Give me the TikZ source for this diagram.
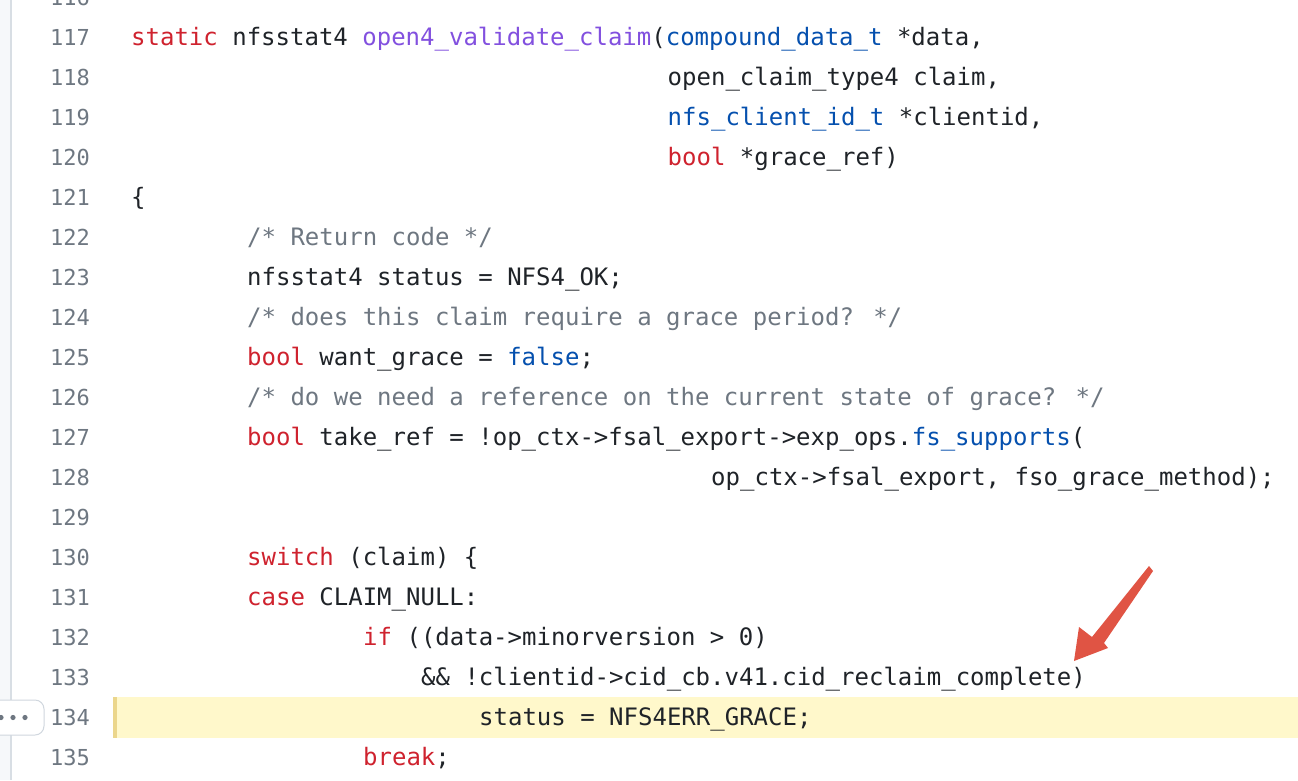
\documentclass[tikz,border=0pt]{standalone}
\usepackage{fontspec}
\newfontfamily\code{DejaVu Sans Mono}
\definecolor{kw}{HTML}{CF222E}
\definecolor{fn}{HTML}{8250DF}
\definecolor{ty}{HTML}{0550AE}
\definecolor{cm}{HTML}{6E7781}
\definecolor{tx}{HTML}{1F2328}
\definecolor{ln}{HTML}{6E7781}
\definecolor{arr}{HTML}{E05444}
\definecolor{strip}{HTML}{F6F8FA}
\definecolor{stripline}{HTML}{D8DEE4}
\definecolor{hl}{HTML}{FFF8CB}
\definecolor{hlbar}{HTML}{EBD68C}
\definecolor{btn}{HTML}{D0D7DE}
\newcommand{\K}[1]{\textcolor{kw}{#1}}
\newcommand{\F}[1]{\textcolor{fn}{#1}}
\newcommand{\T}[1]{\textcolor{ty}{#1}}
\newcommand{\C}[1]{\textcolor{cm}{#1}}
\begin{document}
\begin{tikzpicture}[x=1pt,y=-1pt,
  codeline/.style={anchor=base west,inner sep=0pt,font=\code\fontsize{24}{24}\selectfont,text=tx},
  lnum/.style={anchor=base east,inner sep=0pt,font=\code\fontsize{22}{22}\selectfont,text=ln}]
\useasboundingbox (0,0) rectangle (1298,780);
\fill[white] (0,0) rectangle (1298,780);
\fill[strip] (0,0) rectangle (11,780);
\draw[stripline,line width=1.5] (11,0) -- (11,780);
% highlight
\fill[hl] (113,697) rectangle (1298,738);
\fill[hlbar] (113,697) rectangle (116.5,738);
% dots button
\draw[btn,fill=white,line width=1,rounded corners=9] (-12,700) rectangle (44,735);
\foreach \dx in {0,12,24}{\fill[ln] (1+\dx,717.5) circle (2.6);}
% line numbers
\foreach \n [count=\i from 0] in {116,...,135}{
  \node[lnum] (n\n) at (90,{5+40*\i}) {\n};
}
\newcommand{\cx}[1]{131+14.5*#1}
\node[codeline] (l117) at ({\cx{0}},45) {\K{static} nfsstat4 \F{open4\_validate\_claim}(\T{compound\_data\_t} *data,};
\node[codeline] (l118) at ({\cx{37}},85) {open\_claim\_type4 claim,};
\node[codeline] (l119) at ({\cx{37}},125) {\T{nfs\_client\_id\_t} *clientid,};
\node[codeline] (l120) at ({\cx{37}},165) {\K{bool} *grace\_ref)};
\node[codeline] (l121) at ({\cx{0}},205) {\{};
\node[codeline] (l122) at ({\cx{8}},245) {\C{/* Return code */}};
\node[codeline] (l123) at ({\cx{8}},285) {nfsstat4 status = NFS4\_OK;};
\node[codeline] (l124) at ({\cx{8}},325) {\C{/* does this claim require a grace period? */}};
\node[codeline] (l125) at ({\cx{8}},365) {\K{bool} want\_grace = \T{false};};
\node[codeline] (l126) at ({\cx{8}},405) {\C{/* do we need a reference on the current state of grace? */}};
\node[codeline] (l127) at ({\cx{8}},445) {\K{bool} take\_ref = !op\_ctx->fsal\_export->exp\_ops.\T{fs\_supports}(};
\node[codeline] (l128) at ({\cx{40}},485) {op\_ctx->fsal\_export, fso\_grace\_method);};
\node[codeline] (l130) at ({\cx{8}},565) {\K{switch} (claim) \{};
\node[codeline] (l131) at ({\cx{8}},605) {\K{case} CLAIM\_NULL:};
\node[codeline] (l132) at ({\cx{16}},645) {\K{if} ((data->minorversion > 0)};
\node[codeline] (l133) at ({\cx{20}},685) {\&\& !clientid->cid\_cb.v41.cid\_reclaim\_complete)};
\node[codeline] (l134) at ({\cx{24}},725) {status = NFS4ERR\_GRACE;};
\node[codeline] (l135) at ({\cx{16}},765) {\K{break};};
% arrow
\fill[arr] (1149,566) -- (1153,571) -- (1104,643) -- (1108,648) -- (1074,661) -- (1079,627) -- (1092,637) -- cycle;
\end{tikzpicture}
\end{document}
